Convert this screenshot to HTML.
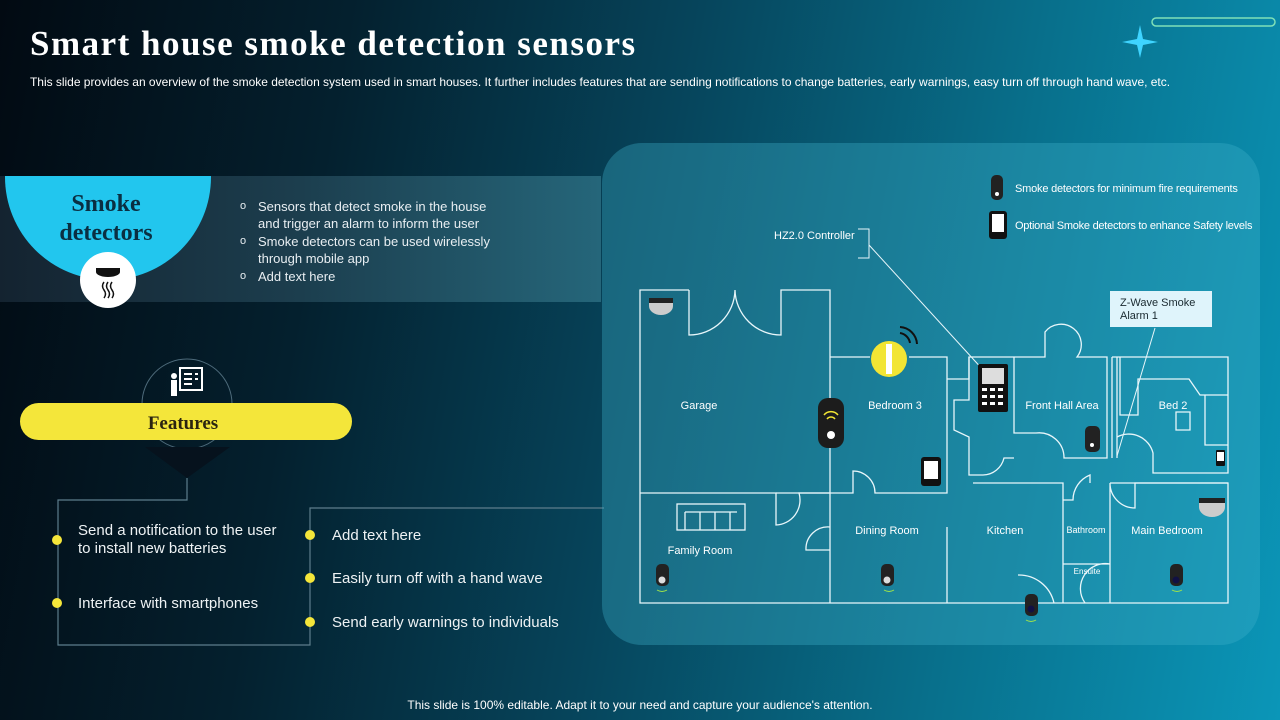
<!DOCTYPE html>
<html><head><meta charset="utf-8"><style>
*{margin:0;padding:0;box-sizing:border-box}
body{width:1280px;height:720px;overflow:hidden;position:relative;font-family:"Liberation Sans",sans-serif;
background:linear-gradient(100deg,#020a12 0%,#04202e 25%,#06455c 50%,#08708c 75%,#0b96b8 100%);color:#fff}
.abs{position:absolute}
h1{position:absolute;left:30px;top:24px;font-family:"Liberation Serif",serif;font-size:35px;font-weight:bold;letter-spacing:1.5px;white-space:nowrap}
.sub{left:30px;top:75px;font-size:12px;letter-spacing:-0.02px;white-space:nowrap}
.band{left:0;top:176px;width:601px;height:126px;background:linear-gradient(90deg,#142330 0%,#1c3e4e 50%,#25667a 100%)}
.half{left:5px;top:74px;width:206px;height:206px;border-radius:50%;background:#22c6ee;clip-path:inset(102px 0 0 0)}
ul{list-style:none}
.pts{left:240px;top:198px;font-size:13px;line-height:17px;color:#e8eef2}
.pts li{position:relative;padding-left:18px;margin-bottom:1px}
.pts li:before{content:"o";position:absolute;left:0;top:0;font-size:11px}
.feat{font-size:15px;color:#eef2f4;white-space:nowrap;line-height:18px}
.dot{position:absolute;width:10px;height:10px;border-radius:50%;background:#f5e63a}
</style></head><body>
<h1>Smart house smoke detection sensors</h1>
<div class="abs sub">This slide provides an overview of the smoke detection system used in smart houses. It further includes features that are sending notifications to change batteries, early warnings, easy turn off through hand wave, etc.</div>
<svg class="abs" style="left:0;top:0" width="1280" height="720">
<rect x="1152" y="18" width="123" height="8" rx="4" fill="none" stroke="#7fe0b8" stroke-width="1.5"/>
<path d="M1140 25 L1143 39 L1158 42 L1143 45 L1140 58 L1137 45 L1122 42 L1137 39Z" fill="#3fd4ff"/>
</svg>
<div class="abs band"></div>
<div class="abs half" style="top:74px"></div>
<div class="abs" style="left:26px;top:190px;width:160px;text-align:center;font-family:'Liberation Serif',serif;font-weight:bold;font-size:24px;line-height:29px;color:#0a2f42">Smoke<br>detectors</div>
<svg class="abs" style="left:78px;top:252px" width="60" height="60">
<circle cx="30" cy="28" r="28" fill="#fff"/>
<path d="M18 16 h24 v4 a12 5 0 0 1 -24 0z" fill="#111"/>
<path d="M26 30 q-3 4 0 8 q3 4 0 8 M30 30 q-3 4 0 8 q3 4 0 8 M34 30 q-3 4 0 8 q3 4 0 8" stroke="#111" stroke-width="1.5" fill="none"/>
</svg>
<ul class="abs pts">
<li>Sensors that detect smoke in the house<br>and trigger an alarm to inform the user</li>
<li>Smoke detectors can be used wirelessly<br>through mobile app</li>
<li>Add text here</li>
</ul>
<svg class="abs" style="left:0;top:0" width="610" height="720">
<circle cx="187" cy="404" r="45" fill="none" stroke="#4d6a7a" stroke-width="1"/>
<g fill="#fff"><circle cx="174" cy="376" r="3"/><rect x="171" y="380" width="6" height="16"/>
<rect x="180" y="368" width="22" height="22" fill="none" stroke="#fff" stroke-width="2"/>
<rect x="184" y="373" width="8" height="2"/><rect x="184" y="378" width="8" height="2"/><rect x="184" y="383" width="8" height="2"/>
<rect x="195" y="373" width="3" height="2"/><rect x="195" y="378" width="3" height="2"/></g>
<rect x="20" y="403" width="332" height="37" rx="18.5" fill="#f4e63a"/>
<text x="183" y="429" text-anchor="middle" font-family="Liberation Serif,serif" font-weight="bold" font-size="19" fill="#2a2410">Features</text>
<path d="M145 447 L230 447 L187 478Z" fill="#06121d"/>
<path d="M187 478 V500 H58 V645 H310 V508 H604" fill="none" stroke="#5d7d8c" stroke-width="1.2"/>
</svg>
<div class="dot" style="left:52px;top:535px"></div>
<div class="dot" style="left:52px;top:598px"></div>
<div class="dot" style="left:305px;top:530px"></div>
<div class="dot" style="left:305px;top:573px"></div>
<div class="dot" style="left:305px;top:617px"></div>
<div class="abs feat" style="left:78px;top:522px">Send a notification to the user<br>to install new batteries</div>
<div class="abs feat" style="left:78px;top:595px">Interface with smartphones</div>
<div class="abs feat" style="left:332px;top:527px">Add text here</div>
<div class="abs feat" style="left:332px;top:570px">Easily turn off with a hand wave</div>
<div class="abs feat" style="left:332px;top:614px">Send early warnings to individuals</div>

<svg class="abs" style="left:0;top:0" width="1280" height="720" font-family="Liberation Sans,sans-serif" font-size="11" fill="#fff">
<rect x="602" y="143" width="658" height="502" rx="40" fill="#3fb2cc" fill-opacity="0.35"/>
<g fill="none" stroke="#e8f6fa" stroke-width="1.3">
<path d="M689 290 H640 V603 H1228 V483 H1110"/>
<path d="M689 290 V335 A46 46 0 0 0 735 290 A46 46 0 0 0 781 335 V290 H830 V493"/>
<path d="M640 493 H776 V525 A25 25 0 0 0 799 493 H853 V471 A22 22 0 0 1 875 493 H947 V357 H909"/>
<path d="M830 357 H870"/>
<path d="M830 493 V603 M830 527 A22 22 0 0 0 806 550 H830 M830 493 H776"/>
<path d="M947 379 H969 V357 H1014 V357 H1045 V332 A20 20 0 0 1 1077 357 H1107 V458 H1064 A25 25 0 0 0 1036 433 H1014 V357"/>
<path d="M969 357 V400 H954 V430 L969 437 V475 L983 475 A22 22 0 0 0 1004 458 H1014"/>
<path d="M1112 357 H1228 V473 H1153 V453 A25 25 0 0 0 1117 437 M1120 357 V415 H1138 V379 H1189 L1200 395 H1228"/>
<path d="M1112 357 V458 M1117 357 V458 M1205 395 V445 H1228"/>
<path d="M973 483 H1063 V603 M1063 483 V500 H1073 A27 27 0 0 1 1090 475 V483 M1110 483 V603 M1110 483 A25 25 0 0 0 1135 508 V483 H1228 M1063 564 H1110 M1110 564 A25 25 0 0 0 1085 603"/>
<path d="M947 527 V603 M1018 575 A36 36 0 0 1 1054 603"/>
<rect x="677" y="504" width="68" height="26"/><path d="M685 512 H737 M685 512 V530 M700 512 V530 M715 512 V530 M730 512 V530"/>
<path d="M1176 412 h14 v18 h-14z"/>
</g>
<path d="M858 229 H869 V258 H858 M869 245 L985 372 M1155 328 L1117 456" fill="none" stroke="#e8f6fa" stroke-width="1"/>
<rect x="1110" y="291" width="102" height="36" fill="#dff4fb"/>
<text x="1120" y="306" fill="#1a2a30">Z-Wave Smoke</text><text x="1120" y="319" fill="#1a2a30">Alarm 1</text>
<text x="774" y="239">HZ2.0 Controller</text>
<rect x="991" y="175" width="12" height="25" rx="5" fill="#222"/><circle cx="997" cy="194" r="2" fill="#fff"/>
<text x="1015" y="192" letter-spacing="-0.2">Smoke detectors for minimum  fire requirements</text>
<rect x="989" y="211" width="18" height="28" rx="3" fill="#111"/><rect x="992" y="214" width="12" height="18" fill="#fff"/>
<text x="1015" y="229" letter-spacing="-0.25">Optional Smoke detectors to enhance Safety levels</text>
<g font-size="11">
<text x="699" y="409" text-anchor="middle">Garage</text>
<text x="895" y="409" text-anchor="middle">Bedroom 3</text>
<text x="1062" y="409" text-anchor="middle">Front Hall Area</text>
<text x="1173" y="409" text-anchor="middle">Bed 2</text>
<text x="700" y="554" text-anchor="middle">Family Room</text>
<text x="887" y="534" text-anchor="middle">Dining Room</text>
<text x="1005" y="534" text-anchor="middle">Kitchen</text>
<text x="1086" y="533" text-anchor="middle" font-size="9">Bathroom</text>
<text x="1167" y="534" text-anchor="middle">Main Bedroom</text>
<text x="1087" y="574" text-anchor="middle" font-size="8">Ensuite</text>
</g>
<circle cx="889" cy="359" r="18" fill="#f2e534"/><rect x="886" y="344" width="6" height="30" fill="#fff"/>
<path d="M900 333 a12 12 0 0 1 10 10 M900 327 a18 18 0 0 1 17 17" stroke="#111" stroke-width="2" fill="none"/>
<rect x="818" y="398" width="26" height="50" rx="10" fill="#1c1c1c"/><circle cx="831" cy="435" r="4" fill="#fff"/>
<path d="M824 415 a9 9 0 0 1 14 0 M827 419 a5 5 0 0 1 8 0" stroke="#f2e534" stroke-width="1.5" fill="none"/>
<rect x="978" y="364" width="30" height="48" rx="2" fill="#111"/><rect x="982" y="368" width="22" height="16" fill="#ddd"/>
<g fill="#fff"><rect x="982" y="388" width="5" height="3"/><rect x="990" y="388" width="5" height="3"/><rect x="998" y="388" width="5" height="3"/><rect x="982" y="395" width="5" height="3"/><rect x="990" y="395" width="5" height="3"/><rect x="998" y="395" width="5" height="3"/><rect x="982" y="402" width="5" height="3"/><rect x="990" y="402" width="5" height="3"/><rect x="998" y="402" width="5" height="3"/></g>
<rect x="921" y="457" width="20" height="29" rx="3" fill="#111"/><rect x="924" y="461" width="14" height="18" fill="#fff"/>
<rect x="1085" y="426" width="15" height="26" rx="5" fill="#222"/><circle cx="1092" cy="445" r="2" fill="#fff"/>
<rect x="1216" y="450" width="9" height="16" rx="1" fill="#111"/><rect x="1217" y="452" width="7" height="9" fill="#fff"/>
<path d="M649 300 h24 v6 a12 9 0 0 1 -24 0z" fill="#ccc"/><rect x="649" y="298" width="24" height="5" fill="#222"/>
<path d="M1199 500 h26 v7 a13 10 0 0 1 -26 0z" fill="#ccc"/><rect x="1199" y="498" width="26" height="5" fill="#222"/>
<g fill="#222"><rect x="656" y="564" width="13" height="22" rx="5"/><rect x="881" y="564" width="13" height="22" rx="5"/><rect x="1170" y="564" width="13" height="22" rx="5"/><rect x="1025" y="594" width="13" height="22" rx="5"/></g>
<g fill="#ddd"><circle cx="662" cy="580" r="3.5"/><circle cx="887" cy="580" r="3.5"/><circle cx="1176" cy="580" r="3.5" fill="#114"/><circle cx="1031" cy="609" r="3.5" fill="#114"/></g>
<g stroke="#9ee34a" fill="none"><path d="M657 590 q5 3 10 0 M884 590 q5 3 10 0 M1172 590 q5 3 10 0 M1026 620 q5 3 10 0"/></g>
</svg>
<div class="abs" style="left:0;top:698px;width:1280px;text-align:center;font-size:12px;color:#fff">This slide is 100% editable. Adapt it to your need and capture your audience's attention.</div>
</body></html>
